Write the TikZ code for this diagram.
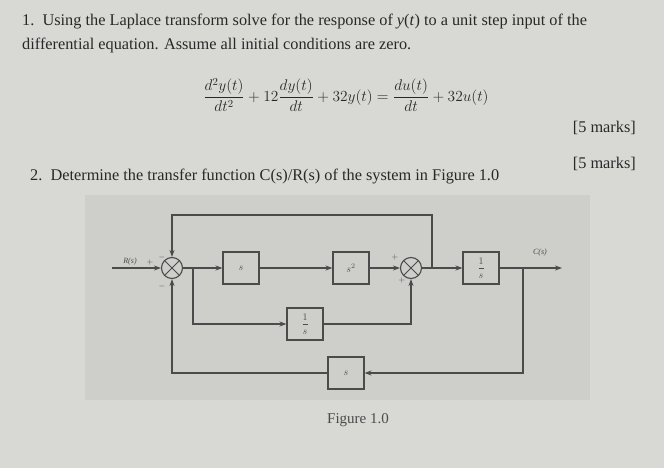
\documentclass[tikz,border=0pt]{standalone}
\usepackage{graphicx}
\usepackage{fontspec}
\setmainfont{Liberation Serif}
\usetikzlibrary{arrows.meta}
\definecolor{paper}{RGB}{216,216,213}
\definecolor{figpaper}{RGB}{206,206,203}
\definecolor{ink}{RGB}{40,40,40}
\definecolor{line}{RGB}{75,75,75}
\tikzset{
  blk/.style={draw=line,line width=1.1pt,minimum width=36pt,minimum height=32pt,inner sep=0pt,font=\fontsize{10}{12}\selectfont,text=line},
  sumj/.style={draw=line,line width=1.1pt,circle,minimum size=21pt,inner sep=0pt,path picture={\draw[line,line width=1pt] (path picture bounding box.north west)--(path picture bounding box.south east) (path picture bounding box.north east)--(path picture bounding box.south west);}},
  wire/.style={line,line width=1.1pt},
  arr/.style={wire,-{Stealth[length=7pt,width=5pt]}},
  sgn/.style={font=\fontsize{8}{9}\selectfont,text=line,inner sep=0pt},
  txt/.style={font=\fontsize{16.3}{19}\selectfont,text=ink,inner sep=0pt}
}
\begin{document}
\begin{tikzpicture}[x=1pt,y=-1pt]
  \fill[paper] (0,0) rectangle (664,468);
  \fill[figpaper] (85,195) rectangle (590,400);
  \useasboundingbox (0,0) rectangle (664,468);

  \node[txt,anchor=west] (q1a) at (22,22) {1.\enspace Using the Laplace transform solve for the response of \textit{y}(\textit{t}) to a unit step input of the};
  \node[txt,anchor=west] (q1b) at (22,45) {differential equation. Assume all initial conditions are zero.};
  \node[txt,font=\fontsize{14.4}{17}\selectfont] (eqn) at (346,95) {\scalebox{1.07}{$\displaystyle \frac{d^2y(t)}{dt^2}+12\frac{dy(t)}{dt}+32y(t)=\frac{du(t)}{dt}+32u(t)$}};
  \node[txt,anchor=east] (mk1) at (636,128) {[5 marks]};
  \node[txt,anchor=west] (q2) at (30,177) {2.\enspace Determine the transfer function C(s)/R(s) of the system in Figure 1.0};
  \node[txt,anchor=east] (mk2) at (636,164) {[5 marks]};

  \node[sumj] (sum1) at (172,268) {};
  \node[blk] (gs) at (241,268) {$s$};
  \node[blk] (gs2) at (351,268) {$s^2$};
  \node[sumj] (sum2) at (411,268) {};
  \node[blk] (gint) at (481,268) {$\displaystyle\frac{1}{s}$};
  \node[blk] (gmid) at (305,324) {$\displaystyle\frac{1}{s}$};
  \node[blk] (gfb) at (346,373) {$s$};

  \coordinate (rin) at (112,268);
  \coordinate (cout) at (562,268);
  \coordinate (br1) at (193,268);
  \coordinate (br2) at (432,268);
  \coordinate (br3) at (523,268);

  \draw[arr] (rin) -- (sum1);
  \draw[arr] (sum1) -- (gs);
  \draw[arr] (gs) -- (gs2);
  \draw[arr] (gs2) -- (sum2);
  \draw[arr] (sum2) -- (gint);
  \draw[arr] (gint) -- (cout);
  \draw[arr] (br1) |- (gmid);
  \draw[arr] (gmid) -| (sum2);
  \draw[arr] (br2) |- (172,215) -- (sum1);
  \draw[arr] (br3) |- (gfb);
  \draw[arr] (gfb) -| (sum1);

  \node[sgn,font=\fontsize{8}{9}\selectfont\itshape] (rlab) at (130,262) {R(s)};
  \node[sgn] (p1) at (150,262) {$+$};
  \node[sgn] (m1) at (162,257) {$-$};
  \node[sgn] (m2) at (162,286) {$-$};
  \node[sgn] (p2) at (395,257) {$+$};
  \node[sgn] (p3) at (402,280) {$+$};
  \node[sgn,font=\fontsize{8}{9}\selectfont\itshape] (clab) at (540,253) {C(s)};

  \node[txt,font=\fontsize{15}{17}\selectfont,text=line] (cap) at (358,420) {Figure 1.0};
\end{tikzpicture}
\end{document}
